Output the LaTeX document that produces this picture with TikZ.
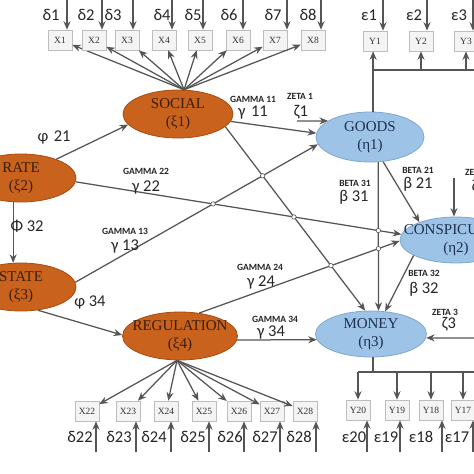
\documentclass[tikz,border=0pt]{standalone}
\usepackage{fontspec}
\setmainfont{Liberation Serif}
\newfontfamily\lblfont{Carlito}
\usetikzlibrary{shapes.geometric,arrows.meta,shadows,intersections}
\definecolor{orfill}{HTML}{C8621C}
\definecolor{ordraw}{HTML}{A84C10}
\definecolor{ortext}{HTML}{3A1E0A}
\definecolor{bluefill}{HTML}{9DC3E6}
\definecolor{bluedraw}{HTML}{7FA7CF}
\definecolor{bluetext}{HTML}{1F3050}
\definecolor{linec}{HTML}{555555}
\definecolor{boxfill}{HTML}{F4F4F4}
\definecolor{boxdraw}{HTML}{BDBDBD}
\begin{document}
\begin{tikzpicture}[x=1pt,y=-1pt,
  exo/.style={ellipse,fill=orfill,draw=ordraw,line width=0.8pt,inner sep=0pt},
  endo/.style={ellipse,fill=bluefill,draw=bluedraw,line width=0.8pt,inner sep=0pt},
  exot/.style={align=center,inner sep=0pt,text=ortext,font=\fontsize{15}{18.5}\selectfont},
  endot/.style={align=center,inner sep=0pt,text=bluetext,font=\fontsize{15}{18.5}\selectfont},
  ind/.style={rectangle,fill=boxfill,draw=boxdraw,line width=0.6pt,minimum width=24pt,minimum height=20pt,inner sep=0pt,
    font=\fontsize{9.5}{10}\selectfont,text=black!80,
    drop shadow={shadow xshift=1.2pt,shadow yshift=-1.2pt,opacity=0.25,fill=black}},
  conn/.style={draw=linec,line width=1.25pt},
  arr/.style={conn,-{Stealth[length=8.5pt,width=7pt]}},
  hop/.style={draw=linec,fill=white,line width=0.6pt},
  gk/.style={inner sep=0pt,text=black!85,font=\lblfont\fontsize{16.5}{16.5}\selectfont},
  en/.style={inner sep=0pt,text=black!85,font=\lblfont\bfseries\fontsize{9.5}{10}\selectfont}]
\useasboundingbox (0,0) rectangle (474,474);
\clip (0,0) rectangle (474,474);
\fill[white] (0,0) rectangle (474,474);

% latent variables
\node[exo,minimum width=110pt,minimum height=48pt] (soc) at (178,114) {};
\node[exot] (soct) at (soc) {SOCIAL\\(ξ1)};
\node[exo,minimum width=110pt,minimum height=48pt] (rate) at (21,178) {};
\node[exot] (ratet) at (rate) {RATE\\(ξ2)};
\node[exo,minimum width=110pt,minimum height=48pt] (state) at (21,287) {};
\node[exot] (statet) at (state) {STATE\\(ξ3)};
\node[exo,minimum width=115pt,minimum height=48pt] (reg) at (180,336) {};
\node[exot] (regt) at (reg) {REGULATION\\(ξ4)};
\node[endo,minimum width=108pt,minimum height=50pt] (goods) at (370,137) {};
\node[endot] (goodst) at (goods) {GOODS\\(η1)};
\node[endo,minimum width=112pt,minimum height=46pt] (consp) at (456,240) {};
\node[endot] (conspt) at (consp) {CONSPICUOUS\\(η2)};
\node[endo,minimum width=111pt,minimum height=46pt] (money) at (371,334) {};
\node[endot] (moneyt) at (money) {MONEY\\(η3)};

% top X indicators
\foreach \n/\bx/\ax/\lx in {1/60/67/51,2/94/102/86,3/127/133/113,4/164/172/162,5/200/203/193,6/238/243/229,7/275/287/273,8/313/321/308}{
  \node[ind] (x\n) at (\bx,40) {X\n};
  \coordinate (dx\n) at (\ax,0);
  \draw[arr] (dx\n) -- (dx\n |- x\n.north);
  \node[gk] (dl\n) at (\lx,15) {δ\n};
  \draw[arr] (soc.76) -- (x\n);
}
% top Y indicators
\foreach \n/\bx/\ax/\lx in {1/375/383/369,2/421/427/414,3/466/473/459}{
  \node[ind] (y\n) at (\bx,41) {Y\n};
  \coordinate (ey\n) at (\ax,0);
  \draw[arr] (ey\n) -- (ey\n |- y\n.north);
  \node[gk] (el\n) at (\lx,15) {ε\n};
}
\coordinate (busL) at (373,70);
\coordinate (busR) at (476,70);
\draw[conn] (busL) -- (busR);
\draw[arr] (goods.83) -- (goods.83 |- y1.south);
\draw[arr] (y2.south |- busL) -- (y2.south);
\draw[arr] (y3.south |- busL) -- (y3.south);

% bottom X indicators
\foreach \n/\bx/\ax/\lx in {22/87/96/80,23/128/136/119,24/166/171/154,25/204/209/193,26/239/244/230,27/272/280/265,28/305/316/299}{
  \node[ind] (x\n) at (\bx,411) {X\n};
  \coordinate (dx\n) at (\ax,452);
  \draw[arr] (dx\n) -- (dx\n |- x\n.south);
  \node[gk] (dl\n) at (\lx,437) {δ\n};
  \draw[arr] (reg.263) -- (x\n);
}
% bottom Y indicators
\coordinate (bbus) at (373,372);
\coordinate (bbusR) at (476,372);
\foreach \n/\bx/\ax/\lx in {20/358/367/354,19/397/400/386,18/431/442/421,17/463/473/457}{
  \node[ind] (y\n) at (\bx,410) {Y\n};
  \coordinate (ey\n) at (\ax,452);
  \draw[arr] (ey\n) -- (ey\n |- y\n.south);
  \node[gk] (el\n) at (\lx,437) {ε\n};
  \draw[arr] (y\n.north |- bbus) -- (y\n.north);
}
\draw[conn] (money.-85) -- (money.-85 |- bbus);
\draw[conn] (y20.north |- bbus) -- (bbusR);

% structural paths
\draw[arr] (rate.28) -- (soc.192);
\draw[arr] (rate.252) -- (state.108);
\draw[arr] (state.-54) -- (reg.179);
\draw[arr] (soc.-8) -- (goods.176);
\draw[arr,name path=sm] (soc.-15) -- (money.104);
\draw[arr,name path=g22] (rate.-4) -- (consp.174);
\draw[arr,name path=g13] (state.5) -- (goods.188);
\draw[arr,name path=g24] (reg.50) -- (consp.181);
\draw[arr] (reg.-4) -- (money.186);
\draw[arr] (goods.-62) -- (consp.154);
\draw[arr,name path=b31] (goods.-72) -- (money.72);
\draw[arr] (consp.200) -- (money.58);
% crossing hops
\path[name intersections={of=g22 and g13,by=h1}];
\path[name intersections={of=g13 and sm,by=h2}];
\path[name intersections={of=g22 and sm,by=h3}];
\path[name intersections={of=g22 and b31,by=h4}];
\path[name intersections={of=g24 and sm,by=h5}];
\path[name intersections={of=g24 and b31,by=h6}];
\foreach \h in {h1,h2,h3,h4,h5,h6}{ \draw[hop] (\h) circle (2.2pt); }
% disturbances
\coordinate (z1) at (297,121);
\draw[arr] (z1) -- (goods.159);
\coordinate (z2) at (454,178);
\draw[arr] (z2) -- (z2 |- consp.north);
\coordinate (z3) at (476,338);
\draw[arr] (z3) -- (money.-4);

% labels
\node[gk] (p21) at (54,137) {φ\,\,21};
\node[gk] (p32) at (27,226) {Φ 32};
\node[gk] (p34) at (90,302) {φ 34};
\node[en] (G11) at (253,99) {GAMMA 11};
\node[gk] (g11) at (253,113) {γ\,\,11};
\node[en] (Z1) at (300,96) {ZETA 1};
\node[gk] (zz1) at (301,112) {ζ1};
\node[en] (G22) at (146,171) {GAMMA 22};
\node[gk] (g22l) at (146,187) {γ 22};
\node[en] (G13) at (125,231) {GAMMA 13};
\node[gk] (g13l) at (125,246) {γ 13};
\node[en] (G24) at (260,267) {GAMMA 24};
\node[gk] (g24l) at (261,282) {γ 24};
\node[en] (G34) at (275,319) {GAMMA 34};
\node[gk] (g34l) at (271,332) {γ 34};
\node[en] (B21) at (418,170) {BETA 21};
\node[gk] (b21) at (418,184) {β 21};
\node[en] (B31) at (355,183) {BETA 31};
\node[gk] (b31l) at (354,197) {β 31};
\node[en] (B32) at (424,273) {BETA 32};
\node[gk] (b32) at (424,289) {β 32};
\node[en] (Z2) at (478,172) {ZETA 2};
\node[gk] (zz2) at (479,187) {ζ2};
\node[en] (Z3) at (445,312) {ZETA 3};
\node[gk] (zz3) at (449,324) {ζ3};
\end{tikzpicture}
\end{document}
